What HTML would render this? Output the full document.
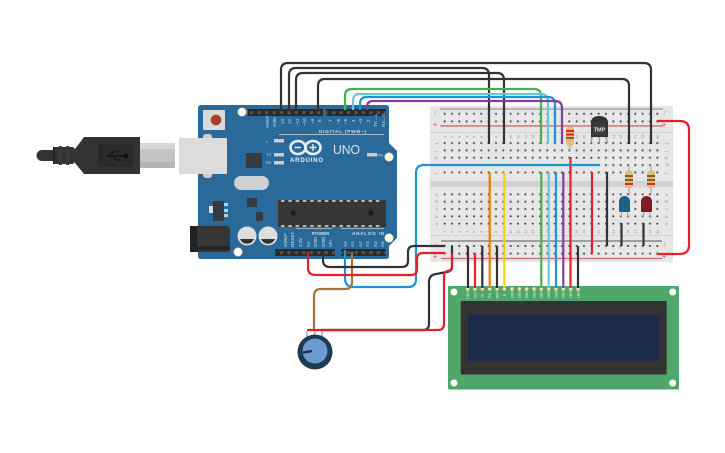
<!DOCTYPE html>
<html><head><meta charset="utf-8"><style>
html,body{margin:0;padding:0;background:#fff}
svg{display:block;filter:blur(.35px)}
text{font-family:"Liberation Sans",sans-serif}
.w{fill:none;stroke-width:2.2;stroke-linecap:butt}
.k{stroke:#333}.r{stroke:#e3202b}
.ard{fill:#d5dee5;font-size:4.6px}
.bb{fill:#999;font-size:4.5px}
.lc{fill:#e8f2e8;font-size:3.6px}
</style></head><body>
<svg width="725" height="453" viewBox="0 0 725 453" xmlns="http://www.w3.org/2000/svg">
<defs>
<pattern id="hT" x="441" y="110" width="7.333" height="7.6" patternUnits="userSpaceOnUse"><circle cx="3.67" cy="3.8" r="1.05" fill="#4a4a4a"/></pattern>
<pattern id="hJ" x="441" y="139.4" width="7.333" height="7.35" patternUnits="userSpaceOnUse"><circle cx="3.67" cy="3.67" r="1.05" fill="#4a4a4a"/></pattern>
<pattern id="hE" x="441" y="190.7" width="7.333" height="7.33" patternUnits="userSpaceOnUse"><circle cx="3.67" cy="3.67" r="1.05" fill="#4a4a4a"/></pattern>
<pattern id="hB" x="441" y="242.2" width="7.333" height="7.6" patternUnits="userSpaceOnUse"><circle cx="3.67" cy="3.8" r="1.05" fill="#4a4a4a"/></pattern>
<pattern id="pin" x="248" y="109" width="7.45" height="7" patternUnits="userSpaceOnUse"><rect width="7.45" height="7" fill="#2b2b2b"/><rect x="2.2" y="2.2" width="3" height="3" fill="#555"/></pattern>
</defs>

<!-- USB cable -->
<rect x="140" y="143" width="35" height="25" fill="#c4c4c4"/>
<rect x="140" y="143" width="35" height="6" fill="#d6d6d6"/>
<rect x="140" y="162" width="35" height="6" fill="#b4b4b4"/>
<path d="M42 150H53V161H42A5.5 5.5 0 0 1 42 150Z" fill="#333"/>
<rect x="53" y="147" width="22" height="17" rx="3" fill="#333"/>
<rect x="53" y="147" width="2" height="17" fill="#222"/><rect x="59" y="146" width="3" height="19" fill="#3a3a3a"/><rect x="66" y="146" width="3" height="19" fill="#3a3a3a"/>
<path d="M75 149L84 137H140V174H84L75 163Z" fill="#333"/>
<rect x="98" y="144" width="35" height="23" fill="#2a2a2a"/>
<path d="M107 156H126" stroke="#111" stroke-width="1.2"/><circle cx="126" cy="156" r="2.4" fill="#111"/>
<path d="M110 156L114 151H119M112 156L116 160H121" stroke="#111" fill="none"/>
<circle cx="108" cy="156" r="1" fill="#111"/>

<!-- Arduino -->
<path d="M198 108Q198 105 201 105H386Q389 105 389 108V143L397 151V238L389 246V256Q389 259 386 259H201Q198 259 198 256Z" fill="#2a6a9b"/>
<rect x="203" y="134" width="9" height="44" rx="3" fill="#d0d0d0"/>
<rect x="179" y="138" width="48" height="36" fill="#dcdcdc"/>
<rect x="203" y="110" width="22" height="20" rx="1" fill="#dadada"/>
<circle cx="216" cy="120" r="5.3" fill="#a5412c"/>
<circle cx="242" cy="112" r="4" fill="#fff" stroke="#ffe9a8"/>
<circle cx="389" cy="157" r="4" fill="#fff" stroke="#ffe9a8"/>
<circle cx="389" cy="238" r="4" fill="#fff" stroke="#ffe9a8"/>
<circle cx="238" cy="252" r="4" fill="#fff" stroke="#ffe9a8"/>
<rect x="246" y="153" width="16" height="15" fill="#333c44"/>
<rect x="234" y="176" width="35" height="14" rx="7" fill="#cfcfcf"/>
<rect x="247" y="198" width="10" height="9" fill="#333c44"/>
<rect x="213" y="201" width="11" height="20" fill="#333c44"/>
<rect x="209" y="206" width="4" height="7" fill="#ddd"/>
<rect x="224" y="203" width="4" height="3" fill="#ccc"/><rect x="224" y="209" width="4" height="3" fill="#ccc"/><rect x="224" y="214" width="4" height="3" fill="#ccc"/>
<rect x="256" y="212" width="7" height="9" fill="#333c44"/>
<!-- jack -->
<rect x="190" y="226" width="12" height="26" fill="#222"/>
<rect x="197" y="226" width="33" height="26" rx="3" fill="#363636"/>
<rect x="190" y="246" width="40" height="4" fill="#262626"/>
<!-- caps -->
<circle cx="247" cy="236" r="9.5" fill="#dedede"/><path d="M240 239A7.5 7.5 0 0 0 254 239Z" fill="#333"/>
<circle cx="268" cy="236" r="9.5" fill="#dedede"/><path d="M261 239A7.5 7.5 0 0 0 275 239Z" fill="#333"/>
<!-- IC -->
<rect x="278" y="200" width="108" height="27" rx="1" fill="#363636"/>
<path d="M281 201H383M281 226H383" stroke="#ddd" stroke-width="1.6" stroke-dasharray="3.5 3.8"/>
<circle cx="293.500" cy="213" r="2.8" fill="#1d1d1d"/><circle cx="371" cy="213" r="2.8" fill="#1d1d1d"/>
<!-- headers -->
<rect x="248" y="109" width="75" height="7" fill="url(#pin)"/>
<rect x="326" y="109" width="60" height="7" fill="url(#pin)"/>
<rect x="275" y="249" width="60" height="7" fill="url(#pin)"/>
<rect x="341" y="249" width="45" height="7" fill="url(#pin)"/>
<!-- leds -->
<rect x="274" y="139" width="10" height="3.500" fill="#ccc"/><rect x="274" y="153" width="10" height="3.500" fill="#ccc"/><rect x="274" y="161" width="10" height="3.500" fill="#ccc"/>
<rect x="367" y="153" width="10" height="3.500" fill="#ccc"/>
<!-- logo -->
<g fill="none" stroke="#e8eef3" stroke-width="2.6"><ellipse cx="298" cy="147.500" rx="7.500" ry="6.500"/><ellipse cx="313" cy="147.500" rx="7.500" ry="6.500"/></g>
<path d="M294.500 147.500H301M309.500 147.500H316.500M313 144V151" stroke="#e8eef3" stroke-width="1.400"/>
<text x="290" y="162" font-size="6" font-weight="bold" fill="#e8eef3" textLength="33">ARDUINO</text>
<text x="333" y="154" font-size="13" fill="#dbe6ee" textLength="27" lengthAdjust="spacingAndGlyphs">UNO</text>
<path d="M279 134.500H384" stroke="#cfdbe4" stroke-width=".8"/>
<path d="M296 228.500H332M341 228.500H384" stroke="#8fb3cd" stroke-width="1"/>
<text x="319" y="133" class="ard" font-weight="bold" textLength="47">DIGITAL (PWM~)</text>
<text x="312" y="235" class="ard" font-weight="bold">POWER</text>
<text x="352" y="235" class="ard" font-weight="bold" textLength="32">ANALOG IN</text>
<text x="266" y="143" class="ard" style="font-size:4px">L</text>
<text x="266" y="156" class="ard" style="font-size:4px">TX</text>
<text x="266" y="164" class="ard" style="font-size:4px">RX</text>
<text x="377" y="156.500" class="ard" style="font-size:4px">ON</text>
<g class="ard">
<text transform="translate(269,128) rotate(-90)">AREF</text>
<text transform="translate(276,127) rotate(-90)">GND</text>
<text transform="translate(284,124) rotate(-90)">13</text>
<text transform="translate(291,124) rotate(-90)">12</text>
<text transform="translate(299,126) rotate(-90)">~11</text>
<text transform="translate(306,126) rotate(-90)">~10</text>
<text transform="translate(314,124) rotate(-90)">~9</text>
<text transform="translate(321,122) rotate(-90)">8</text>
<text transform="translate(332,122) rotate(-90)">7</text>
<text transform="translate(340,124) rotate(-90)">~6</text>
<text transform="translate(347,124) rotate(-90)">~5</text>
<text transform="translate(355,122) rotate(-90)">4</text>
<text transform="translate(362,124) rotate(-90)">~3</text>
<text transform="translate(370,122) rotate(-90)">2</text>
<text transform="translate(377,127) rotate(-90)">TX→1</text>
<text transform="translate(385,127) rotate(-90)">RX←0</text>
<text transform="translate(287,247) rotate(-90)">IOREF</text>
<text transform="translate(294,247) rotate(-90)">RESET</text>
<text transform="translate(302,247) rotate(-90)">3.3V</text>
<text transform="translate(310,247) rotate(-90)">5V</text>
<text transform="translate(317,247) rotate(-90)">GND</text>
<text transform="translate(325,247) rotate(-90)">GND</text>
<text transform="translate(332,247) rotate(-90)">Vin</text>
<text transform="translate(347,247) rotate(-90)">A0</text>
<text transform="translate(354,247) rotate(-90)">A1</text>
<text transform="translate(362,247) rotate(-90)">A2</text>
<text transform="translate(369,247) rotate(-90)">A3</text>
<text transform="translate(377,247) rotate(-90)">A4</text>
<text transform="translate(384,247) rotate(-90)">A5</text>
</g>

<!-- Breadboard -->
<rect x="430" y="106" width="243" height="156" rx="1" fill="#e6e6e6"/>
<rect x="430" y="132" width="243" height="1" fill="#d2d2d2"/>
<rect x="430" y="235" width="243" height="1" fill="#d2d2d2"/>
<rect x="430" y="181" width="243" height="6" fill="#d2d2d2"/>
<rect x="441" y="110" width="220" height="15.200" fill="url(#hT)"/>
<rect x="441" y="139.400" width="220" height="36.750" fill="url(#hJ)"/>
<rect x="441" y="190.700" width="220" height="36.650" fill="url(#hE)"/>
<rect x="441" y="242.200" width="220" height="15.200" fill="url(#hB)"/>
<path d="M440 109H663" stroke="#999" stroke-width="1.300"/>
<path d="M440 126H663" stroke="#b8474b" stroke-width="1"/>
<path d="M441 241H662" stroke="#555" stroke-width="1"/>
<path d="M441 258.500H662" stroke="#c9716f" stroke-width="1.300"/>
<g class="bb">
<text x="435" y="114">|</text><text x="664" y="114">|</text>
<text x="433" y="127" style="font-size:7px;fill:#d03030">+</text><text x="662" y="127" style="font-size:7px;fill:#d03030">+</text>
<text x="435" y="246">|</text><text x="664" y="246">|</text>
<text x="433" y="259" style="font-size:7px;fill:#d03030">+</text><text x="662" y="259" style="font-size:7px;fill:#d03030">+</text>
<text transform="translate(438,144) rotate(-90)">j</text><text transform="translate(438,152) rotate(-90)">i</text><text transform="translate(438,159) rotate(-90)">h</text><text transform="translate(438,166) rotate(-90)">g</text><text transform="translate(438,174) rotate(-90)">f</text>
<text transform="translate(668,144) rotate(-90)">j</text><text transform="translate(668,152) rotate(-90)">i</text><text transform="translate(668,159) rotate(-90)">h</text><text transform="translate(668,166) rotate(-90)">g</text><text transform="translate(668,174) rotate(-90)">f</text>
<text transform="translate(438,196) rotate(-90)">e</text><text transform="translate(438,203) rotate(-90)">d</text><text transform="translate(438,210) rotate(-90)">c</text><text transform="translate(438,218) rotate(-90)">b</text><text transform="translate(438,225) rotate(-90)">a</text>
<text transform="translate(668,196) rotate(-90)">e</text><text transform="translate(668,203) rotate(-90)">d</text><text transform="translate(668,210) rotate(-90)">c</text><text transform="translate(668,218) rotate(-90)">b</text><text transform="translate(668,225) rotate(-90)">a</text>
</g>
<g class="bb" style="font-size:4px">
<text transform="translate(446,138) rotate(-90)">1</text><text transform="translate(453.500,138) rotate(-90)">2</text><text transform="translate(461,138) rotate(-90)">3</text><text transform="translate(468,138) rotate(-90)">4</text><text transform="translate(475.500,138) rotate(-90)">5</text><text transform="translate(483,138) rotate(-90)">6</text><text transform="translate(490,138) rotate(-90)">7</text><text transform="translate(497.500,138) rotate(-90)">8</text><text transform="translate(505,138) rotate(-90)">9</text><text transform="translate(512,139) rotate(-90)">10</text><text transform="translate(519.500,139) rotate(-90)">11</text><text transform="translate(527,139) rotate(-90)">12</text><text transform="translate(534,139) rotate(-90)">13</text><text transform="translate(541.500,139) rotate(-90)">14</text><text transform="translate(549,139) rotate(-90)">15</text><text transform="translate(556,139) rotate(-90)">16</text><text transform="translate(563.500,139) rotate(-90)">17</text><text transform="translate(571,139) rotate(-90)">18</text><text transform="translate(578,139) rotate(-90)">19</text><text transform="translate(585.500,139) rotate(-90)">20</text><text transform="translate(593,139) rotate(-90)">21</text><text transform="translate(600,139) rotate(-90)">22</text><text transform="translate(607.500,139) rotate(-90)">23</text><text transform="translate(615,139) rotate(-90)">24</text><text transform="translate(622,139) rotate(-90)">25</text><text transform="translate(629.500,139) rotate(-90)">26</text><text transform="translate(637,139) rotate(-90)">27</text><text transform="translate(644,139) rotate(-90)">28</text><text transform="translate(651.500,139) rotate(-90)">29</text><text transform="translate(659,139) rotate(-90)">30</text>
<text transform="translate(446,233) rotate(-90)">1</text><text transform="translate(453.500,233) rotate(-90)">2</text><text transform="translate(461,233) rotate(-90)">3</text><text transform="translate(468,233) rotate(-90)">4</text><text transform="translate(475.500,233) rotate(-90)">5</text><text transform="translate(483,233) rotate(-90)">6</text><text transform="translate(490,233) rotate(-90)">7</text><text transform="translate(497.500,233) rotate(-90)">8</text><text transform="translate(505,233) rotate(-90)">9</text><text transform="translate(512,234) rotate(-90)">10</text><text transform="translate(519.500,234) rotate(-90)">11</text><text transform="translate(527,234) rotate(-90)">12</text><text transform="translate(534,234) rotate(-90)">13</text><text transform="translate(541.500,234) rotate(-90)">14</text><text transform="translate(549,234) rotate(-90)">15</text><text transform="translate(556,234) rotate(-90)">16</text><text transform="translate(563.500,234) rotate(-90)">17</text><text transform="translate(571,234) rotate(-90)">18</text><text transform="translate(578,234) rotate(-90)">19</text><text transform="translate(585.500,234) rotate(-90)">20</text><text transform="translate(593,234) rotate(-90)">21</text><text transform="translate(600,234) rotate(-90)">22</text><text transform="translate(607.500,234) rotate(-90)">23</text><text transform="translate(615,234) rotate(-90)">24</text><text transform="translate(622,234) rotate(-90)">25</text><text transform="translate(629.500,234) rotate(-90)">26</text><text transform="translate(637,234) rotate(-90)">27</text><text transform="translate(644,234) rotate(-90)">28</text><text transform="translate(651.500,234) rotate(-90)">29</text><text transform="translate(659,234) rotate(-90)">30</text>
</g>

<!-- LCD -->
<rect x="448" y="286" width="231" height="103.500" rx="1.500" fill="#4fa76b"/>
<circle cx="454" cy="292" r="3.500" fill="#fff"/><circle cx="672.700" cy="292" r="3.500" fill="#fff"/><circle cx="454" cy="383" r="3.500" fill="#fff"/><circle cx="672.700" cy="383" r="3.500" fill="#fff"/>
<rect x="460.700" y="301" width="206" height="73.500" rx="1" fill="#333"/>
<rect x="467.700" y="314.500" width="191.300" height="46.500" fill="#1d2c4a"/>
<g fill="#e8e3b8" stroke="#8a8a5e" stroke-width=".6">
<circle cx="467.700" cy="289" r="2"/><circle cx="475" cy="289" r="2"/><circle cx="482.300" cy="289" r="2"/><circle cx="489.700" cy="289" r="2"/><circle cx="497" cy="289" r="2"/><circle cx="504.300" cy="289" r="2"/><circle cx="512" cy="289" r="2"/><circle cx="519.300" cy="289" r="2"/><circle cx="526.700" cy="289" r="2"/><circle cx="534" cy="289" r="2"/><circle cx="541.300" cy="289" r="2"/><circle cx="548.700" cy="289" r="2"/><circle cx="556" cy="289" r="2"/><circle cx="563.300" cy="289" r="2"/><circle cx="570.700" cy="289" r="2"/><circle cx="578" cy="289" r="2"/>
</g>
<g class="lc">
<text transform="translate(469,299) rotate(-90)">GND</text><text transform="translate(476.300,299) rotate(-90)">VCC</text><text transform="translate(483.600,298) rotate(-90)">V0</text><text transform="translate(491,298) rotate(-90)">RS</text><text transform="translate(498.300,298) rotate(-90)">RW</text><text transform="translate(505.600,296) rotate(-90)">E</text><text transform="translate(513.300,298) rotate(-90)">DB0</text><text transform="translate(520.600,298) rotate(-90)">DB1</text><text transform="translate(528,298) rotate(-90)">DB2</text><text transform="translate(535.300,298) rotate(-90)">DB3</text><text transform="translate(542.600,298) rotate(-90)">DB4</text><text transform="translate(550,298) rotate(-90)">DB5</text><text transform="translate(557.300,298) rotate(-90)">DB6</text><text transform="translate(564.600,298) rotate(-90)">DB7</text><text transform="translate(572,298) rotate(-90)">LED1</text><text transform="translate(579.300,298) rotate(-90)">LED2</text>
</g>

<!-- Pot -->
<path d="M307 331V338M314.700 331V338M322 331V338" stroke="#aaa" stroke-width="1.500"/>
<circle cx="315" cy="352" r="17.500" fill="#1f3b52"/>
<circle cx="315" cy="351" r="12.500" fill="#6a9bd1"/>
<path d="M303 352.500L312 351" stroke="#1c2f44" stroke-width="2.400"/>

<!-- Resistors, TMP, LEDs -->
<path d="M570 147V152" stroke="#aaa" stroke-width="1.200"/>
<path d="M570 126Q574 127 574 130V141Q574 146 570 147Q566 146 566 141V130Q566 127 570 126Z" fill="#dcbf78"/>
<rect x="566" y="130" width="8" height="2" fill="#e2222b"/><rect x="566" y="133.500" width="8" height="2" fill="#e2222b"/><rect x="566" y="137" width="8" height="2" fill="#8a5a1e"/>
<path d="M629 165V171M629 188V194M651 165V171M651 188V194" stroke="#aaa" stroke-width="1.200"/>
<path d="M629 170Q633 170.500 633 174V184Q633 188 629 188.500Q625 188 625 184V174Q625 170.500 629 170Z" fill="#dcbf78"/>
<rect x="625" y="175" width="8" height="2" fill="#8a5a1e"/><rect x="625" y="179" width="8" height="2" fill="#8a5a1e"/><rect x="625" y="183" width="8" height="2" fill="#e2222b"/>
<path d="M651 170Q655 170.500 655 174V184Q655 188 651 188.500Q647 188 647 184V174Q647 170.500 651 170Z" fill="#dcbf78"/>
<rect x="647" y="175" width="8" height="2" fill="#8a5a1e"/><rect x="647" y="179" width="8" height="2" fill="#8a5a1e"/><rect x="647" y="183" width="8" height="2" fill="#e2222b"/>
<path d="M592 137L591 143M599.500 137V143M606 137L607.500 143" stroke="#999" stroke-width="1.200"/>
<path d="M591 123Q591 116 599 116Q608 116 608 123V137H591Z" fill="#333"/>
<rect x="593" y="122" width="13" height="13" fill="#3c3c3c"/>
<text x="599.500" y="131.500" font-size="5.500" font-weight="bold" fill="#e6e6e6" text-anchor="middle">TMP</text>
<path d="M622 211L621 218M627 211L629 218M644 211L643 218M649 211L651 218" stroke="#aaa" stroke-width="1.200"/>
<path d="M619 201.500A5.500 5.500 0 0 1 630 201.500V211Q630 212 628 212H621Q619 212 619 211Z" fill="#1c6088"/>
<path d="M641 201.500A5.500 5.500 0 0 1 652 201.500V211Q652 212 650 212H643Q641 212 641 211Z" fill="#7c1d22"/>

<!-- Wires -->
<g class="w">
<path class="k" d="M468 246V288M482.300 246V288M497 246V288M578 246V288" />
<path class="r" d="M475 253V288"/>
<path stroke="#e67d07" d="M489.700 172V288"/>
<path stroke="#f6d300" d="M504.300 172V288"/>
<path stroke="#45b24c" d="M541.300 172V288"/>
<path stroke="#6cc6d6" d="M548.700 172V288"/>
<path stroke="#1b96d3" d="M556 172V288"/>
<path stroke="#7f3f9e" d="M563.300 172V288"/>
<path class="r" d="M570.500 157V288"/>
<path class="r" d="M592 172V254"/>
<path class="k" d="M607 172V246M621.500 223V246M643.500 223V246"/>
<path class="r" d="M657 121H680Q689 121 689 130V245Q689 254 680 254H657"/>
<path stroke="#1b96d3" d="M345 250V278Q345 287 354 287H408Q416 287 416 279V173Q416 165 424 165H600"/>
<path stroke="#a9743f" d="M352 252V282Q352 289 345 289H321Q314 289 314 296V331"/>
<path class="r" d="M308 252V268Q308 275 316 275H411Q417 275 417 269V259Q417 253 423 253H445"/>
<path class="k" d="M323 252V260Q323 267 330 267H402Q408 267 408 261V252Q408 246 414 246H445"/>
<path class="k" d="M452 246V267Q452 271 447 272L436 274Q429 275 429 282V324Q429 330 423 330H322"/>
<path class="r" d="M452 253V266Q452 271 447 271Q444 272 444 276V324Q444 330 438 330H307"/>
<path class="k" d="M281 110V70Q281 63 288 63H644Q651 63 651 70V144"/>
<path class="k" d="M289 110V75Q289 68 296 68H482Q489 68 489 75V144"/>
<path class="k" d="M296 110V80Q296 73 303 73H497Q504 73 504 80V144"/>
<path class="k" d="M318 110V86Q318 79 325 79H622Q629 79 629 86V144"/>
<path stroke="#45b24c" d="M345 110V96Q345 89 352 89H534Q541 89 541 96V144"/>
<path stroke="#6cc6d6" d="M353 110V101Q353 94 360 94H541Q548 94 548 101V144"/>
<path stroke="#1b96d3" d="M360 110V104Q360 97 367 97H548Q555 97 555 104V144"/>
<path stroke="#7f3f9e" d="M367 110V107Q367 101 373 101H555Q562 101 562 108V144"/>
</g>
</svg>
</body></html>
